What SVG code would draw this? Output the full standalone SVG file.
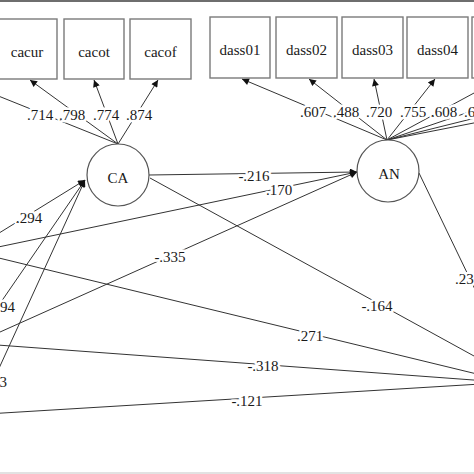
<svg xmlns="http://www.w3.org/2000/svg" width="474" height="474" viewBox="0 0 474 474">
<style>
.box{fill:#fff;stroke:#7a7a7a;stroke-width:1.4}
.lat{fill:#fff;stroke:#555;stroke-width:1.2}
.ln{fill:none;stroke:#333;stroke-width:1}
.nt{font-family:"Liberation Serif",serif;font-size:15px;fill:#1a1a1a;text-anchor:middle}
.lb{font-family:"Liberation Serif",serif;font-size:15px;fill:#1a1a1a;text-anchor:middle;paint-order:stroke;stroke:#fff;stroke-width:5px;stroke-linejoin:round}
</style>
<defs>
<marker id="ah" viewBox="0 0 10 10" refX="10" refY="5" markerWidth="9" markerHeight="7" markerUnits="userSpaceOnUse" orient="auto">
<path d="M0,0 L10,5 L0,10 Z" fill="#111"/>
</marker>
</defs>
<rect width="474" height="474" fill="#fff"/>
<rect x="0" y="0" width="474" height="2" fill="#6e6e6e"/>
<rect x="0" y="472" width="474" height="2" fill="#e2e2e2"/>
<g id="connectors">
<g class="ln" marker-end="url(#ah)">
<path d="M118,144 L-44,79"/>
<path d="M118,144 L30,80"/>
<path d="M118,144 L94,80"/>
<path d="M118,144 L158,80"/>
<path d="M387,140 L242,79"/>
<path d="M387,140 L309,79"/>
<path d="M387,140 L374,79"/>
<path d="M387,140 L435,79"/>
<path d="M387,140 L500,79"/>
<path d="M387,140 L566,79"/>
<path d="M387,140 L632,79"/>
<path d="M387,140 L698,79"/>
<path d="M149,175 L357,172"/>
<path d="M-40,255 L357,172"/>
<path d="M-20,341 L357,172"/>
<path d="M-30,251 L85,180"/>
<path d="M-10,318 L85,180"/>
<path d="M-10,388 L85,180"/>
<path d="M-30,251 L514,383"/>
<path d="M-30,343 L514,383"/>
<path d="M-30,415 L514,382"/>
<path d="M150,178 L514,378"/>
<path d="M419,173 L510,362"/>
</g>
<g id="labels">
<text class="lb" x="40" y="120">.714</text>
<text class="lb" x="72" y="120">.798</text>
<text class="lb" x="106" y="120">.774</text>
<text class="lb" x="139" y="120">.874</text>
<text class="lb" x="313" y="117">.607</text>
<text class="lb" x="346" y="117">.488</text>
<text class="lb" x="379" y="117">.720</text>
<text class="lb" x="413" y="117">.755</text>
<text class="lb" x="444" y="117">.608</text>
<text class="lb" x="464" y="117" style="text-anchor:start">.6</text>
<text class="lb" x="29" y="223">.294</text>
<text class="lb" x="0" y="312" style="text-anchor:start">94</text>
<text class="lb" x="7" y="387" style="text-anchor:end">3</text>
<text class="lb" x="254" y="181">-.216</text>
<text class="lb" x="279" y="195">.170</text>
<text class="lb" x="170" y="262">-.335</text>
<text class="lb" x="377" y="311">-.164</text>
<text class="lb" x="455" y="284" style="text-anchor:start">.23</text>
<text class="lb" x="310" y="341">.271</text>
<text class="lb" x="263" y="371">-.318</text>
<text class="lb" x="247" y="406">-.121</text>
</g>
</g>
<g id="cacur"><rect class="box" x="-3" y="19" width="60" height="60"/><text class="nt" x="27" y="57">cacur</text></g>
<g id="cacot"><rect class="box" x="64" y="19" width="60" height="60"/><text class="nt" x="94" y="57">cacot</text></g>
<g id="cacof"><rect class="box" x="130" y="19" width="61" height="60"/><text class="nt" x="160.5" y="57">cacof</text></g>
<g id="dass01"><rect class="box" x="210" y="17" width="60" height="61"/><text class="nt" x="240" y="55">dass01</text></g>
<g id="dass02"><rect class="box" x="276" y="17" width="61" height="61"/><text class="nt" x="306.5" y="55">dass02</text></g>
<g id="dass03"><rect class="box" x="342" y="17" width="61" height="61"/><text class="nt" x="372.5" y="55">dass03</text></g>
<g id="dass04"><rect class="box" x="407" y="17" width="61" height="61"/><text class="nt" x="437.5" y="55">dass04</text></g>
<g id="dass05"><rect class="box" x="472" y="17" width="61" height="61"/></g>
<g id="CA"><circle class="lat" cx="118" cy="175" r="31"/><text class="nt" x="118" y="183">CA</text></g>
<g id="AN"><circle class="lat" cx="388" cy="171" r="31"/><text class="nt" x="389" y="179">AN</text></g>
</svg>
